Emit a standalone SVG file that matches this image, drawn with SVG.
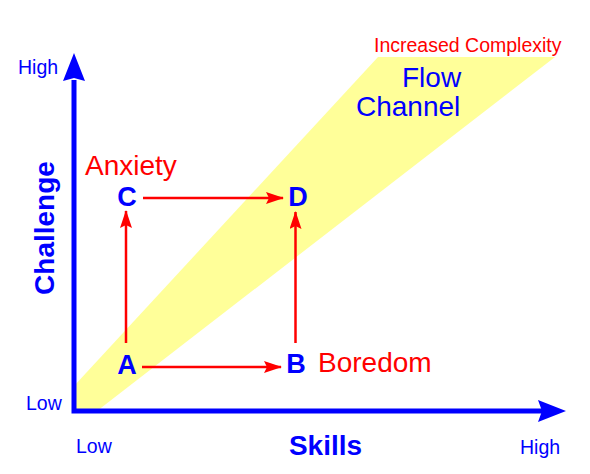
<svg xmlns="http://www.w3.org/2000/svg" width="590" height="474" viewBox="0 0 590 474">
<style>
text{font-family:"Liberation Sans",Arial,sans-serif}
.blue{fill:#0000FF}
.red{fill:#FF0000}
.bold{font-weight:bold}
.axis{stroke:#0000FF;stroke-width:5;fill:none}
.conn{stroke:#FF0000;stroke-width:2.5;fill:none}
</style>
<defs>
<marker id="ah" viewBox="0 0 18 12" refX="17" refY="6" markerWidth="18" markerHeight="12" markerUnits="userSpaceOnUse" orient="auto">
<path d="M0,0 L18,6 L0,12 L3,6 Z" fill="#FF0000"/>
</marker>
</defs>
<g id="flow-channel">
<polygon points="74,411 74,386 378,57 555,57 97,411" fill="#FFFF99"/>
</g>
<g id="axes">
<path class="axis" d="M74,80 L74,411 L542,411" stroke-linejoin="miter"/>
<path d="M74,53 L85,81 L74,78 L63,81 Z" class="blue"/>
<path d="M566,411 L538,400 L542,411 L538,422 Z" class="blue"/>
</g>
<g id="axis-labels">
<text x="18" y="74" font-size="19.5" class="blue">High</text>
<text x="26" y="410" font-size="19.5" class="blue">Low</text>
<text x="76" y="453" font-size="19.5" class="blue">Low</text>
<text x="520" y="454" font-size="19.5" class="blue">High</text>
<text x="325.5" y="455" font-size="28" text-anchor="middle" class="blue bold">Skills</text>
<text transform="translate(54,228) rotate(-90)" font-size="28" text-anchor="middle" class="blue bold">Challenge</text>
<text x="374" y="52" font-size="19.5" class="red">Increased Complexity</text>
<text x="402" y="87" font-size="28" class="blue">Flow</text>
<text x="356" y="116" font-size="28" class="blue">Channel</text>
<text x="85" y="175" font-size="28" class="red">Anxiety</text>
<text x="318" y="372" font-size="28" class="red">Boredom</text>
</g>
<g id="connectors">
<line class="conn" x1="142" y1="367" x2="281" y2="367" marker-end="url(#ah)"/>
<line class="conn" x1="143" y1="198" x2="283" y2="198" marker-end="url(#ah)"/>
<line class="conn" x1="126" y1="343" x2="126" y2="211" marker-end="url(#ah)"/>
<line class="conn" x1="295.5" y1="343" x2="295.5" y2="212" marker-end="url(#ah)"/>
</g>
<g id="node-A"><text x="127" y="374" font-size="27" text-anchor="middle" class="blue bold">A</text></g>
<g id="node-B"><text x="296" y="373" font-size="27" text-anchor="middle" class="blue bold">B</text></g>
<g id="node-C"><text x="127" y="206" font-size="27" text-anchor="middle" class="blue bold">C</text></g>
<g id="node-D"><text x="298" y="206" font-size="27" text-anchor="middle" class="blue bold">D</text></g>
</svg>
